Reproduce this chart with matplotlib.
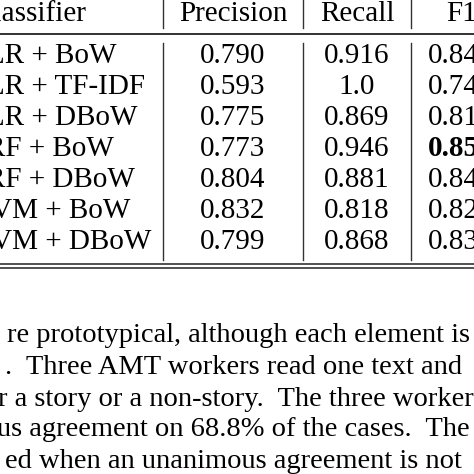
import matplotlib
matplotlib.use("Agg")
import matplotlib.pyplot as plt

# table data (cropped view of a paper table)
classifiers = ["LR + BoW", "LR + TF-IDF", "LR + DBoW", "RF + BoW",
               "RF + DBoW", "SVM + BoW", "SVM + DBoW"]
precision = ["0.790", "0.593", "0.775", "0.773", "0.804", "0.832", "0.799"]
recall = ["0.916", "1.0", "0.869", "0.946", "0.881", "0.818", "0.868"]
f1 = ["0.848", "0.745", "0.819", "0.851", "0.841", "0.825", "0.832"]
best_f1 = 3
headers = ["Classifier", "Precision", "Recall", "F1"]

paragraph = [
    "re prototypical, although each element is not",
    ".  Three AMT workers read one text and",
    "r a story or a non-story.  The three workers",
    "us agreement on 68.8% of the cases.  The",
    "ed when an unanimous agreement is not",
]
para_x = [7, 5, -2, -3, 5]

FONT = ["Liberation Serif", "DejaVu Serif"]
FS = 21
PFS = 20.5

fig = plt.figure(figsize=(4.74, 4.74), dpi=100)
ax = fig.add_axes([0, 0, 1, 1])
ax.set_xlim(0, 474)
ax.set_ylim(474, 0)
ax.axis("off")

# label column: cut-off prefixes
prefix_off = {"LR": 13, "RF": 14, "SVM": 25}

ax.text(-25, 14, headers[0], fontsize=FS, family=FONT, va="center", ha="left")
ax.text(233, 14, headers[1], fontsize=FS, family=FONT, va="center", ha="center")
ax.text(357, 14, headers[2], fontsize=FS, family=FONT, va="center", ha="center")
ax.text(446, 14, headers[3], fontsize=FS, family=FONT, va="center", ha="left")

row_y = [56, 87, 118, 149, 180, 211, 242]
for i, y in enumerate(row_y):
    name = classifiers[i]
    off = prefix_off[name.split()[0]]
    ax.text(-off, y, name, fontsize=FS, family=FONT, va="center", ha="left")
    ax.text(233, y, precision[i], fontsize=FS, family=FONT, va="center", ha="center")
    ax.text(357, y, recall[i], fontsize=FS, family=FONT, va="center", ha="center")
    ax.text(428, y, f1[i], fontsize=FS, family=FONT, va="center", ha="left",
            fontweight="bold" if i == best_f1 else "normal")

# rules
ax.plot([0, 474], [34, 34], color="#222222", lw=1.3)
ax.plot([0, 474], [264, 264], color="#222222", lw=1.1)
ax.plot([0, 474], [268, 268], color="#222222", lw=1.1)
for x in [163, 303, 411]:
    ax.plot([x, x], [0, 28], color="#333333", lw=1.0)
    ax.plot([x, x], [43, 260], color="#333333", lw=1.0)

para_y = [336, 367, 399, 430, 461]
for txt, x, y in zip(paragraph, para_x, para_y):
    ax.text(x, y, txt, fontsize=PFS, family=FONT, va="center", ha="left")

fig.savefig("out.png", dpi=100)
